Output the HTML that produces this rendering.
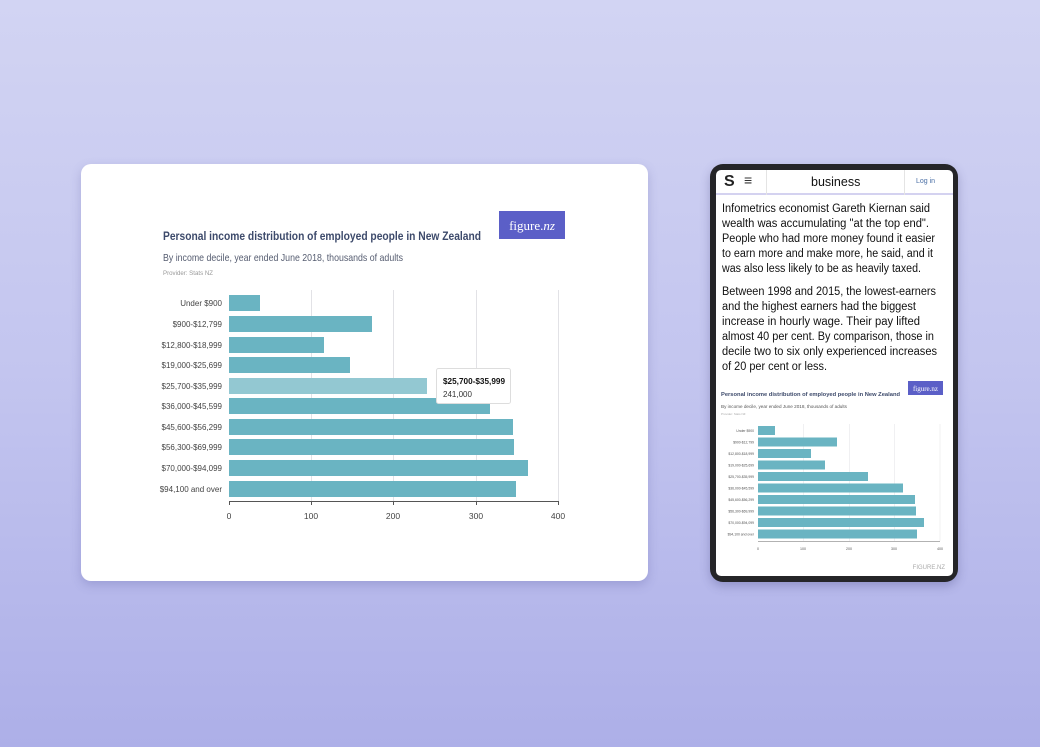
<!DOCTYPE html>
<html><head><style>
*{margin:0;padding:0;box-sizing:border-box}
body{width:1040px;height:747px;overflow:hidden;background:linear-gradient(180deg,#d2d4f3 0%,#c3c5ef 50%,#adafe8 100%);font-family:"Liberation Sans",sans-serif;position:relative}
.card{position:absolute;left:81px;top:164px;width:567px;height:417px;background:#fff;border-radius:10px;box-shadow:0 4px 10px rgba(80,80,150,.25)}
.abs{position:absolute}
.phone{position:absolute;left:710px;top:164px;width:248px;height:418px;background:#252528;border-radius:13px;box-shadow:0 4px 10px rgba(60,60,120,.3)}
.screen{position:absolute;left:716px;top:170px;width:237px;height:406px;background:#fff;border-radius:5px;overflow:hidden}
</style></head><body>
<div class="card"></div>
<svg class="abs" style="left:0;top:0" width="1040" height="747">
<g font-family="Liberation Sans, sans-serif">
<text x="163" y="240" font-size="12" font-weight="bold" fill="#3d4a6b" textLength="318" lengthAdjust="spacingAndGlyphs">Personal income distribution of employed people in New Zealand</text>
<text x="163" y="261" font-size="10.5" fill="#555c70" textLength="240" lengthAdjust="spacingAndGlyphs">By income decile, year ended June 2018, thousands of adults</text>
<text x="163" y="275" font-size="6.5" fill="#999" textLength="50" lengthAdjust="spacingAndGlyphs">Provider: Stats NZ</text>
<rect x="499" y="211" width="66" height="28" fill="#5b5fc7"/>
<text x="532" y="230" font-size="13" fill="#fff" text-anchor="middle" font-family="Liberation Serif, serif">figure.<tspan font-style="italic">nz</tspan></text>
<g stroke="#e2e2e6" stroke-width="1">
<line x1="311.5" y1="290" x2="311.5" y2="501"/><line x1="393.5" y1="290" x2="393.5" y2="501"/><line x1="476.5" y1="290" x2="476.5" y2="501"/><line x1="558.5" y1="290" x2="558.5" y2="501"/>
</g>
<g fill="#6ab4c2">
<rect x="229" y="295" width="31" height="16"/>
<rect x="229" y="316" width="143" height="16"/>
<rect x="229" y="337" width="95" height="16"/>
<rect x="229" y="357" width="121" height="16"/>
<rect x="229" y="378" width="198" height="16" fill="#93c8d2"/>
<rect x="229" y="398" width="261" height="16"/>
<rect x="229" y="419" width="284" height="16"/>
<rect x="229" y="439" width="285" height="16"/>
<rect x="229" y="460" width="299" height="16"/>
<rect x="229" y="481" width="287" height="16"/>
</g>
<line x1="229" y1="501.5" x2="558" y2="501.5" stroke="#555" stroke-width="1"/>
<g stroke="#555"><line x1="229.5" y1="501" x2="229.5" y2="505"/><line x1="311.5" y1="501" x2="311.5" y2="505"/><line x1="393.5" y1="501" x2="393.5" y2="505"/><line x1="476.5" y1="501" x2="476.5" y2="505"/><line x1="558.5" y1="501" x2="558.5" y2="505"/></g>
<g font-size="8.5" fill="#444" text-anchor="middle"><text x="229" y="519">0</text><text x="311" y="519">100</text><text x="393" y="519">200</text><text x="476" y="519">300</text><text x="558" y="519">400</text></g>
<g font-size="8" fill="#444" text-anchor="end">
<text x="222" y="306">Under $900</text><text x="222" y="327">$900-$12,799</text><text x="222" y="348">$12,800-$18,999</text><text x="222" y="368">$19,000-$25,699</text><text x="222" y="389">$25,700-$35,999</text><text x="222" y="409">$36,000-$45,599</text><text x="222" y="430">$45,600-$56,299</text><text x="222" y="450">$56,300-$69,999</text><text x="222" y="471">$70,000-$94,099</text><text x="222" y="492">$94,100 and over</text>
</g>
<rect x="436.5" y="368.5" width="74" height="35" fill="#fff" stroke="#ddd" rx="2"/>
<text x="443" y="384" font-size="8.5" font-weight="bold" fill="#111" textLength="62" lengthAdjust="spacingAndGlyphs">$25,700-$35,999</text>
<text x="443" y="397" font-size="8" fill="#333">241,000</text>
</g>
</svg>
<div class="phone"></div>
<div class="screen">
<div class="abs" style="left:0;top:0;width:237px;height:25px;border-bottom:2px solid #d4d2f0"></div>
<div class="abs" style="left:50px;top:0;width:1px;height:25px;background:#e4e4e4"></div>
<div class="abs" style="left:188px;top:0;width:1px;height:25px;background:#e4e4e4"></div>
<div class="abs" style="left:8px;top:3px;font-size:16px;font-weight:bold;color:#222">S</div>
<div class="abs" style="left:28px;top:2px;font-size:14px;color:#333">≡</div>
<div class="abs" style="left:95px;top:5px;font-size:12.5px;color:#111">business</div>
<div class="abs" style="left:200px;top:8px;font-size:7px;color:#4a6fa5">Log in</div>
<div class="abs" style="right:8px;bottom:5px;font-size:6px;color:#aaa">FIGURE.NZ</div>
</div>
<svg class="abs" style="left:0;top:0" width="1040" height="747">
<g font-family="Liberation Sans, sans-serif">
<g font-size="11.5" fill="#111" lengthAdjust="spacingAndGlyphs">
<text x="722" y="212" textLength="208" lengthAdjust="spacingAndGlyphs">Infometrics economist Gareth Kiernan said</text>
<text x="722" y="227" textLength="207" lengthAdjust="spacingAndGlyphs">wealth was accumulating "at the top end".</text>
<text x="722" y="242" textLength="213" lengthAdjust="spacingAndGlyphs">People who had more money found it easier</text>
<text x="722" y="257" textLength="211" lengthAdjust="spacingAndGlyphs">to earn more and make more, he said, and it</text>
<text x="722" y="272" textLength="199" lengthAdjust="spacingAndGlyphs">was also less likely to be as heavily taxed.</text>
<text x="722" y="295" textLength="214" lengthAdjust="spacingAndGlyphs">Between 1998 and 2015, the lowest-earners</text>
<text x="722" y="310" textLength="194" lengthAdjust="spacingAndGlyphs">and the highest earners had the biggest</text>
<text x="722" y="325" textLength="198" lengthAdjust="spacingAndGlyphs">increase in hourly wage. Their pay lifted</text>
<text x="722" y="340" textLength="212" lengthAdjust="spacingAndGlyphs">almost 40 per cent. By comparison, those in</text>
<text x="722" y="355" textLength="215" lengthAdjust="spacingAndGlyphs">decile two to six only experienced increases</text>
<text x="722" y="370" textLength="105" lengthAdjust="spacingAndGlyphs">of 20 per cent or less.</text>
</g>
<text x="721" y="396" font-size="5.6" font-weight="bold" fill="#3d4a6b" textLength="179" lengthAdjust="spacingAndGlyphs">Personal income distribution of employed people in New Zealand</text>
<text x="721" y="408" font-size="4.3" fill="#555" textLength="126" lengthAdjust="spacingAndGlyphs">By income decile, year ended June 2018, thousands of adults</text>
<text x="721" y="415" font-size="3" fill="#aaa">Provider: Stats NZ</text>
<rect x="908" y="381" width="35" height="14" fill="#5b5fc7"/>
<text x="925.5" y="391" font-size="7" fill="#fff" text-anchor="middle" font-family="Liberation Serif, serif">figure.nz</text>
<g stroke="#e6e6ea" stroke-width=".6"><line x1="803.5" y1="424" x2="803.5" y2="541"/><line x1="849.5" y1="424" x2="849.5" y2="541"/><line x1="894.5" y1="424" x2="894.5" y2="541"/><line x1="940" y1="424" x2="940" y2="541"/></g>
<g fill="#6ab4c2">
<rect x="758" y="426" width="17" height="9"/><rect x="758" y="437.5" width="79" height="9"/><rect x="758" y="449" width="53" height="9"/><rect x="758" y="460.5" width="67" height="9"/><rect x="758" y="472" width="110" height="9"/><rect x="758" y="483.5" width="145" height="9"/><rect x="758" y="495" width="157" height="9"/><rect x="758" y="506.5" width="158" height="9"/><rect x="758" y="518" width="166" height="9"/><rect x="758" y="529.5" width="159" height="9"/>
</g>
<line x1="758" y1="541.5" x2="940" y2="541.5" stroke="#666" stroke-width=".6"/>
<g font-size="3.6" fill="#555" text-anchor="middle"><text x="758" y="550">0</text><text x="803" y="550">100</text><text x="849" y="550">200</text><text x="894" y="550">300</text><text x="940" y="550">400</text></g>
<g font-size="3.4" fill="#555" text-anchor="end">
<text x="754" y="432">Under $900</text><text x="754" y="443.5">$900-$12,799</text><text x="754" y="455">$12,800-$18,999</text><text x="754" y="466.5">$19,000-$25,699</text><text x="754" y="478">$25,700-$35,999</text><text x="754" y="489.5">$36,000-$45,599</text><text x="754" y="501">$45,600-$56,299</text><text x="754" y="512.5">$56,300-$69,999</text><text x="754" y="524">$70,000-$94,099</text><text x="754" y="535.5">$94,100 and over</text>
</g>
</g>
</svg>
</body></html>
